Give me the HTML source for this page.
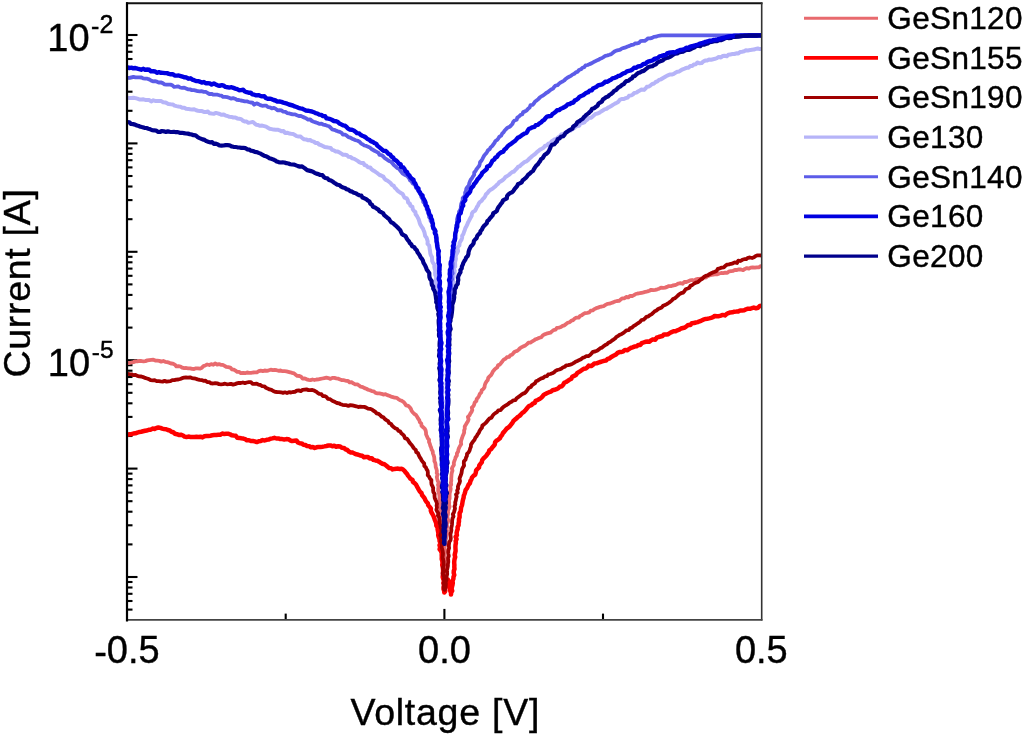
<!DOCTYPE html>
<html><head><meta charset="utf-8"><title>I-V curves</title><style>
html,body{margin:0;padding:0;background:#fff;width:1025px;height:736px;overflow:hidden}
svg{display:block}
text{font-family:"Liberation Sans",Arial,Helvetica,sans-serif;fill:#000;stroke:#000;stroke-width:0.4px}
</style></head><body>
<svg width="1025" height="736" viewBox="0 0 1025 736">
<rect width="1025" height="736" fill="#fff"/>
<defs><clipPath id="pa"><rect x="127" y="3" width="635" height="617"/></clipPath></defs>

<g stroke="#000" stroke-width="2.1" fill="none"><line x1="127" y1="609.6" x2="132.5" y2="609.6"/><line x1="127" y1="601.0" x2="132.5" y2="601.0"/><line x1="127" y1="593.8" x2="132.5" y2="593.8"/><line x1="127" y1="587.5" x2="132.5" y2="587.5"/><line x1="127" y1="582.0" x2="132.5" y2="582.0"/><line x1="127" y1="577.0" x2="137.5" y2="577.0"/><line x1="127" y1="544.4" x2="132.5" y2="544.4"/><line x1="127" y1="525.3" x2="132.5" y2="525.3"/><line x1="127" y1="511.7" x2="132.5" y2="511.7"/><line x1="127" y1="501.2" x2="132.5" y2="501.2"/><line x1="127" y1="492.6" x2="132.5" y2="492.6"/><line x1="127" y1="485.4" x2="132.5" y2="485.4"/><line x1="127" y1="479.1" x2="132.5" y2="479.1"/><line x1="127" y1="473.6" x2="132.5" y2="473.6"/><line x1="127" y1="468.6" x2="137.5" y2="468.6"/><line x1="127" y1="436.0" x2="132.5" y2="436.0"/><line x1="127" y1="416.9" x2="132.5" y2="416.9"/><line x1="127" y1="403.3" x2="132.5" y2="403.3"/><line x1="127" y1="392.8" x2="132.5" y2="392.8"/><line x1="127" y1="384.2" x2="132.5" y2="384.2"/><line x1="127" y1="377.0" x2="132.5" y2="377.0"/><line x1="127" y1="370.7" x2="132.5" y2="370.7"/><line x1="127" y1="365.2" x2="132.5" y2="365.2"/><line x1="127" y1="360.2" x2="137.5" y2="360.2"/><line x1="127" y1="327.6" x2="132.5" y2="327.6"/><line x1="127" y1="308.5" x2="132.5" y2="308.5"/><line x1="127" y1="294.9" x2="132.5" y2="294.9"/><line x1="127" y1="284.4" x2="132.5" y2="284.4"/><line x1="127" y1="275.8" x2="132.5" y2="275.8"/><line x1="127" y1="268.6" x2="132.5" y2="268.6"/><line x1="127" y1="262.3" x2="132.5" y2="262.3"/><line x1="127" y1="256.8" x2="132.5" y2="256.8"/><line x1="127" y1="251.8" x2="137.5" y2="251.8"/><line x1="127" y1="219.2" x2="132.5" y2="219.2"/><line x1="127" y1="200.1" x2="132.5" y2="200.1"/><line x1="127" y1="186.5" x2="132.5" y2="186.5"/><line x1="127" y1="176.0" x2="132.5" y2="176.0"/><line x1="127" y1="167.4" x2="132.5" y2="167.4"/><line x1="127" y1="160.2" x2="132.5" y2="160.2"/><line x1="127" y1="153.9" x2="132.5" y2="153.9"/><line x1="127" y1="148.4" x2="132.5" y2="148.4"/><line x1="127" y1="143.4" x2="137.5" y2="143.4"/><line x1="127" y1="110.8" x2="132.5" y2="110.8"/><line x1="127" y1="91.7" x2="132.5" y2="91.7"/><line x1="127" y1="78.1" x2="132.5" y2="78.1"/><line x1="127" y1="67.6" x2="132.5" y2="67.6"/><line x1="127" y1="59.0" x2="132.5" y2="59.0"/><line x1="127" y1="51.8" x2="132.5" y2="51.8"/><line x1="127" y1="45.5" x2="132.5" y2="45.5"/><line x1="127" y1="40.0" x2="132.5" y2="40.0"/><line x1="127" y1="35.0" x2="137.5" y2="35.0"/><line x1="285.7" y1="619.9" x2="285.7" y2="613.6"/><line x1="444.4" y1="619.9" x2="444.4" y2="608.9"/><line x1="603.0" y1="619.9" x2="603.0" y2="613.6"/></g>
<g clip-path="url(#pa)" fill="none" stroke-linejoin="round" stroke-linecap="round">
<path d="M127.5,363.2 L129.5,363.0 L131.5,362.5 L133.4,362.1 L135.4,361.4 L137.4,361.3 L139.3,360.8 L141.3,361.0 L143.4,361.4 L145.4,361.1 L147.3,360.4 L149.3,360.1 L151.3,359.9 L153.3,359.7 L155.3,360.6 L157.3,360.7 L159.3,360.9 L161.2,361.6 L163.3,361.0 L165.2,361.8 L167.2,362.2 L169.1,362.7 L171.0,363.5 L173.0,363.7 L174.8,364.6 L176.4,366.4 L178.5,366.1 L180.5,366.5 L182.2,367.7 L184.2,368.2 L186.3,368.0 L188.2,368.4 L190.2,368.3 L192.1,368.8 L194.1,369.0 L195.9,368.3 L197.9,368.3 L200.1,368.6 L201.9,367.7 L203.5,366.1 L205.3,365.4 L207.2,364.5 L209.3,365.0 L211.2,364.1 L213.3,364.8 L215.1,363.4 L217.1,364.6 L219.0,364.1 L220.8,364.8 L222.8,364.8 L224.6,365.8 L226.3,366.9 L228.3,367.2 L230.3,367.6 L231.8,369.3 L233.8,369.7 L235.5,370.7 L237.2,371.8 L239.3,371.9 L241.0,373.2 L243.2,372.8 L245.1,373.2 L247.1,372.5 L249.0,372.8 L251.0,372.9 L252.9,372.5 L254.9,372.4 L256.9,372.3 L258.8,371.2 L260.7,370.7 L262.8,371.1 L264.7,370.5 L266.8,370.8 L268.8,370.3 L270.7,369.7 L272.7,370.2 L274.7,370.0 L276.6,370.2 L278.5,370.8 L280.6,370.5 L282.5,371.2 L284.5,371.2 L286.5,371.3 L288.4,371.8 L290.3,372.3 L292.1,372.9 L294.1,373.4 L295.7,374.7 L297.3,375.9 L299.4,376.0 L301.2,376.8 L302.6,378.6 L304.8,378.4 L306.6,379.3 L308.6,379.8 L310.5,380.1 L312.5,379.5 L314.5,380.0 L316.5,379.5 L318.5,379.3 L320.4,378.9 L322.4,378.5 L324.4,378.1 L326.4,377.7 L328.4,378.1 L330.4,378.9 L332.4,377.8 L334.4,377.8 L336.3,378.3 L338.3,378.7 L340.2,379.5 L342.0,380.1 L344.0,380.2 L345.9,380.8 L348.0,380.8 L349.6,382.4 L351.8,382.2 L353.4,383.4 L355.2,384.4 L357.4,384.4 L359.1,385.5 L360.7,386.7 L362.8,387.1 L364.5,388.1 L366.4,388.8 L368.1,389.7 L370.0,390.3 L371.8,391.1 L373.8,391.4 L375.5,392.9 L377.4,393.3 L379.5,393.4 L381.5,393.8 L383.3,394.6 L385.5,394.2 L387.3,395.1 L389.2,395.8 L391.0,396.6 L393.0,397.1 L394.8,397.7 L396.9,397.9 L398.5,399.2 L400.1,400.3 L402.0,400.9 L403.6,402.1 L404.9,403.6 L406.1,405.3 L408.3,405.9 L409.8,407.3 L410.9,408.9 L411.6,410.9 L412.9,412.5 L414.3,413.9 L416.1,415.1 L417.1,416.8 L418.1,418.5 L419.3,420.1 L419.8,422.1 L421.3,423.6 L421.5,425.8 L423.1,427.2 L424.7,428.6 L425.6,430.4 L426.0,432.4 L426.1,434.5 L427.0,436.3 L427.7,438.2 L429.1,439.8 L429.0,442.0 L429.8,443.8 L430.3,445.7 L431.1,447.6 L431.6,449.5 L432.7,451.3 L432.9,453.3 L433.6,455.2 L434.2,457.1 L434.4,459.1 L434.4,461.2 L435.3,463.0 L435.6,465.0 L435.7,467.0 L436.4,468.9 L436.9,470.9 L436.7,472.9 L437.6,474.8 L436.8,476.9 L437.2,478.9 L437.7,480.9 L438.8,482.8 L438.0,484.9 L438.6,486.8 L438.2,488.9 L438.2,490.9 L438.8,492.8 L439.3,494.8 L439.5,496.8 L439.4,498.8 L439.9,500.8 L440.7,502.7 L439.6,504.8 L440.2,506.8 L440.8,508.7 L440.3,510.8 L440.9,512.7 L441.3,514.7 L441.3,516.7 L441.4,518.7 L441.5,520.7 L441.0,522.7 L441.8,524.7 L441.1,526.7 L441.4,528.7 L442.0,530.7 L442.0,532.7 L441.4,534.7 L442.3,536.7 L442.8,538.7 L442.6,540.7 L442.0,542.7 L442.9,544.7 L442.4,546.7 L442.7,548.7 L443.5,550.6 L443.0,552.7 L443.0,554.7 L443.2,556.7 L444.2,558.6 L443.9,560.6 L443.6,562.6 L444.6,564.6 L444.0,566.6 L444.3,568.4 L443.3,566.3 L444.7,564.4 L444.7,562.4 L445.1,560.4 L444.3,558.4 L444.7,556.4 L444.4,554.4 L444.8,552.4 L444.9,550.4 L444.6,548.4 L444.6,546.4 L445.6,544.4 L445.7,542.4 L445.6,540.4 L446.1,538.4 L446.3,536.4 L446.7,534.5 L447.0,532.5 L446.8,530.5 L446.7,528.4 L447.2,526.5 L446.6,524.4 L447.8,522.5 L448.4,520.6 L447.7,518.5 L447.3,516.5 L447.9,514.5 L448.1,512.5 L447.9,510.5 L448.9,508.6 L449.6,506.6 L449.0,504.5 L449.2,502.6 L448.9,500.5 L449.6,498.6 L449.6,496.6 L449.6,494.6 L449.8,492.6 L450.4,490.6 L450.7,488.6 L450.2,486.6 L451.2,484.7 L450.9,482.6 L451.3,480.7 L451.2,478.6 L451.4,476.6 L451.5,474.6 L451.8,472.7 L452.5,470.7 L451.9,468.6 L452.7,466.7 L453.9,464.9 L453.8,462.8 L454.4,460.9 L455.1,459.1 L455.7,457.1 L456.9,455.5 L456.9,453.4 L458.1,451.7 L458.4,449.6 L459.1,447.8 L460.0,446.0 L461.2,444.2 L460.9,442.1 L461.3,440.1 L462.0,438.2 L462.6,436.3 L463.4,434.5 L464.2,432.6 L464.1,430.5 L464.8,428.6 L464.7,426.5 L465.8,424.7 L466.8,423.0 L467.9,421.2 L468.6,419.4 L467.9,416.9 L469.5,415.4 L470.3,413.6 L471.5,411.9 L472.3,410.1 L471.8,407.7 L473.4,406.2 L474.2,404.4 L474.7,402.4 L476.4,401.1 L476.7,399.0 L478.1,397.4 L479.1,395.7 L479.8,393.8 L481.3,392.4 L481.7,390.3 L483.4,388.9 L484.5,387.2 L484.8,385.1 L485.5,383.2 L486.5,381.5 L487.8,380.0 L488.2,377.9 L489.6,376.4 L491.1,375.0 L492.1,373.3 L492.9,371.4 L494.2,369.9 L495.6,368.5 L497.3,367.4 L498.0,365.3 L500.0,364.4 L501.2,362.8 L502.5,361.2 L503.7,359.6 L505.5,358.7 L506.9,357.2 L509.2,356.8 L510.4,355.2 L512.4,354.4 L513.6,352.8 L515.1,351.5 L517.2,350.9 L518.7,349.6 L520.1,348.1 L521.8,347.1 L523.6,346.2 L525.4,345.4 L527.0,344.1 L528.5,342.7 L530.7,342.5 L532.3,341.3 L534.0,340.3 L535.7,339.2 L537.6,338.6 L539.5,337.8 L541.4,337.2 L542.8,335.4 L544.5,334.4 L546.4,333.7 L548.4,333.2 L550.4,332.7 L551.9,331.4 L553.5,330.1 L555.6,329.7 L556.9,327.8 L559.0,327.6 L561.0,327.0 L562.6,325.8 L564.5,325.3 L566.1,324.0 L567.7,322.8 L569.7,322.2 L571.2,320.8 L573.1,320.1 L574.6,318.7 L576.3,317.7 L578.6,317.7 L580.0,316.0 L581.8,315.3 L583.4,313.9 L585.2,313.1 L587.3,312.8 L589.3,312.4 L590.7,310.6 L592.7,310.4 L594.4,309.1 L596.2,308.2 L598.1,307.7 L599.9,306.8 L601.9,306.5 L603.9,306.1 L605.6,304.8 L607.4,303.8 L609.4,303.7 L611.3,303.0 L613.2,302.4 L615.0,301.5 L617.0,301.0 L619.0,300.9 L620.7,299.6 L622.4,298.3 L624.5,298.3 L626.2,297.0 L628.4,297.3 L630.0,295.8 L632.2,296.0 L634.0,295.1 L635.7,294.0 L637.7,293.5 L639.7,293.2 L641.6,292.8 L643.6,292.4 L645.5,291.8 L647.5,291.4 L649.4,290.7 L651.2,289.8 L653.3,290.1 L655.3,289.8 L657.3,289.3 L659.2,288.7 L661.0,287.7 L663.1,287.9 L665.1,287.6 L667.0,286.9 L668.8,286.1 L670.9,286.2 L672.8,285.5 L674.8,285.2 L676.7,284.4 L678.5,283.5 L680.4,283.1 L682.7,283.8 L684.3,281.9 L686.4,282.0 L688.3,281.3 L690.1,280.4 L692.1,280.0 L694.3,280.5 L696.0,279.4 L698.0,278.9 L700.0,278.7 L702.0,278.4 L703.7,277.2 L705.9,277.5 L707.6,276.1 L709.5,275.4 L711.4,274.9 L713.4,274.6 L715.3,274.1 L717.4,274.3 L719.3,273.5 L721.2,273.0 L723.3,273.1 L725.3,272.6 L727.3,272.9 L729.1,271.3 L731.1,271.1 L733.1,270.9 L734.9,269.8 L737.0,270.0 L738.9,269.3 L740.9,269.5 L743.1,270.2 L744.9,268.9 L746.8,268.1 L748.9,268.6 L750.7,267.6 L752.7,267.4 L754.8,267.7 L756.8,267.3 L758.8,267.4 L760.7,266.2 L761.7,266.3" stroke="#e86a6e" stroke-width="3.8"/>
<path d="M127.5,434.7 L129.5,434.3 L131.5,434.2 L133.4,433.5 L135.4,433.3 L137.3,432.6 L139.1,432.1 L141.1,431.8 L143.0,431.3 L145.0,430.8 L147.0,430.5 L148.8,429.8 L150.8,429.7 L152.6,428.6 L154.6,428.9 L156.5,428.0 L158.4,427.5 L160.4,427.9 L162.2,428.6 L164.0,429.0 L166.1,429.2 L167.8,430.0 L169.8,430.5 L171.4,431.8 L173.3,432.3 L174.9,433.7 L176.9,434.2 L178.7,434.9 L180.8,434.7 L182.7,435.3 L184.5,436.6 L186.5,437.0 L188.5,436.6 L190.5,436.9 L192.5,436.9 L194.5,437.0 L196.5,436.8 L198.5,437.0 L200.5,436.7 L202.5,437.4 L204.4,436.3 L206.4,436.1 L208.4,436.0 L210.4,435.7 L212.4,435.3 L214.3,435.1 L216.3,434.9 L218.3,434.7 L220.3,434.7 L222.2,433.6 L224.2,433.9 L226.1,433.8 L228.1,433.7 L230.0,434.3 L231.7,435.3 L233.8,435.6 L235.8,435.8 L237.2,437.7 L239.3,437.9 L241.3,438.3 L243.3,438.6 L245.2,439.1 L246.9,440.3 L249.0,440.2 L250.9,441.0 L252.9,441.0 L254.8,441.4 L256.8,442.1 L258.8,441.2 L260.8,440.9 L262.6,440.1 L264.7,440.5 L266.6,439.8 L268.6,439.6 L270.4,438.8 L272.4,438.4 L274.4,437.8 L276.4,438.5 L278.4,438.4 L280.3,439.1 L282.3,439.1 L284.3,439.5 L286.4,439.1 L288.4,439.2 L290.2,440.4 L292.0,441.1 L294.2,440.7 L296.4,440.4 L297.8,442.4 L299.7,443.2 L301.7,443.4 L303.4,444.7 L305.4,445.0 L307.1,446.1 L309.2,446.2 L310.9,447.3 L312.9,447.0 L314.7,448.0 L316.6,447.3 L318.5,446.9 L320.5,446.9 L322.5,446.7 L324.4,446.4 L326.4,446.0 L328.4,445.5 L330.4,445.4 L332.4,446.3 L334.3,445.7 L336.1,446.7 L338.2,446.3 L340.2,446.5 L341.8,447.8 L344.0,447.9 L345.5,449.4 L347.4,450.0 L348.9,451.6 L350.7,452.5 L352.8,452.6 L354.6,453.6 L356.4,454.3 L358.4,454.7 L360.2,455.5 L362.2,455.8 L363.9,457.2 L366.0,456.9 L368.0,457.1 L369.7,458.4 L371.9,458.2 L373.4,459.9 L375.4,460.4 L377.4,460.7 L379.1,461.7 L380.7,462.8 L382.4,463.8 L384.5,464.3 L386.1,465.5 L387.6,466.8 L389.1,468.1 L391.1,468.2 L392.6,469.4 L394.5,468.9 L396.2,468.7 L398.0,468.6 L399.7,469.0 L401.5,468.8 L403.1,469.6 L404.5,470.9 L405.6,472.4 L407.0,473.8 L408.0,475.6 L409.3,477.1 L410.4,478.8 L412.5,479.7 L412.9,481.9 L414.6,483.1 L416.0,484.5 L416.9,486.4 L417.9,488.1 L418.9,489.9 L419.9,491.6 L421.5,493.0 L422.0,495.0 L423.3,496.6 L424.5,498.2 L425.3,500.0 L426.4,501.7 L427.8,503.2 L428.2,505.2 L429.5,506.8 L430.9,508.4 L430.8,510.6 L431.5,512.5 L432.5,514.2 L433.5,516.0 L434.2,517.9 L434.8,519.8 L435.6,521.6 L436.3,523.5 L436.3,525.6 L437.6,527.3 L437.6,529.4 L438.0,531.3 L438.4,533.3 L438.2,535.3 L438.8,537.3 L439.5,539.2 L439.6,541.2 L440.6,543.0 L439.5,545.2 L440.1,547.2 L439.6,549.2 L440.9,551.1 L441.8,553.0 L441.7,555.0 L441.8,557.0 L441.7,559.1 L442.3,561.0 L442.5,563.0 L442.2,565.0 L442.7,567.0 L443.0,569.0 L443.1,571.0 L442.9,573.0 L442.9,575.0 L442.7,577.0 L443.3,579.0 L444.0,581.0 L443.4,583.0 L444.0,585.0 L443.6,587.0 L443.5,589.0 L444.2,591.0 L444.3,592.6 L445.2,591.2 L444.6,589.0 L445.5,587.1 L445.7,585.2 L446.6,583.3 L447.4,581.4 L447.5,579.4 L447.9,579.6 L448.5,581.5 L448.6,583.5 L448.8,585.5 L449.8,587.3 L449.8,589.4 L450.4,591.3 L451.1,593.2 L451.0,594.6 L451.1,592.7 L452.2,590.9 L451.6,588.8 L452.0,586.8 L452.5,584.9 L452.8,582.9 L452.5,580.8 L453.4,578.9 L453.5,576.9 L454.3,575.0 L453.7,572.9 L453.8,570.9 L454.5,569.0 L454.3,567.0 L454.4,565.0 L454.2,562.9 L454.3,560.9 L454.6,559.0 L455.2,557.0 L454.7,555.0 L455.1,553.0 L455.6,551.0 L455.5,549.0 L455.4,547.0 L455.5,545.0 L455.9,543.0 L455.7,541.0 L456.6,539.1 L455.6,536.9 L456.9,535.1 L456.6,533.0 L457.0,531.0 L457.7,529.1 L457.6,527.1 L458.6,525.2 L458.6,523.2 L459.0,521.2 L458.9,519.2 L459.6,517.3 L459.6,515.2 L459.6,513.2 L460.7,511.4 L460.9,509.4 L461.1,507.4 L461.9,505.5 L462.3,503.5 L462.6,501.5 L463.0,499.6 L463.6,497.7 L463.8,495.6 L464.6,493.8 L465.2,491.9 L465.6,489.9 L467.0,488.3 L467.8,486.4 L468.6,484.6 L470.0,483.1 L470.4,481.0 L471.4,479.3 L472.1,477.4 L473.4,475.9 L475.2,474.6 L475.8,472.6 L476.1,470.5 L477.4,468.9 L479.0,467.6 L479.3,465.4 L480.5,463.8 L481.8,462.3 L482.2,460.1 L483.4,458.5 L484.9,457.1 L486.4,455.7 L487.4,454.0 L488.7,452.5 L489.3,450.4 L491.1,449.2 L492.2,447.5 L493.5,446.1 L494.8,444.5 L495.1,442.2 L496.4,440.7 L498.3,439.6 L499.9,438.3 L500.7,436.5 L502.1,435.0 L502.9,433.1 L504.3,431.6 L505.5,430.1 L506.8,428.5 L508.5,427.4 L510.0,426.0 L511.2,424.4 L512.4,422.8 L513.4,421.0 L514.9,419.6 L516.5,418.4 L517.9,416.9 L519.6,415.9 L521.0,414.4 L522.3,412.9 L524.0,411.8 L525.4,410.3 L526.7,408.8 L527.9,407.1 L529.4,405.8 L531.4,405.1 L532.8,403.6 L534.8,402.9 L535.6,400.8 L537.6,400.0 L539.4,399.1 L541.0,398.0 L542.4,396.6 L543.7,394.9 L545.4,393.9 L547.2,393.0 L549.1,392.2 L551.0,391.6 L552.6,390.2 L554.6,389.8 L556.5,389.2 L558.3,388.3 L559.7,386.8 L561.8,386.3 L563.2,384.8 L564.2,382.8 L566.1,382.0 L567.8,380.9 L569.4,379.7 L571.3,378.8 L572.2,376.8 L574.1,375.9 L575.9,375.0 L577.1,373.2 L578.7,372.2 L580.5,371.1 L582.0,369.9 L583.7,368.8 L585.8,368.5 L587.4,367.2 L588.8,365.6 L591.2,366.1 L592.9,364.9 L594.4,363.4 L596.6,363.3 L598.4,362.6 L600.3,362.0 L602.2,361.4 L604.1,360.8 L606.1,360.5 L607.5,358.9 L609.4,358.5 L610.9,357.2 L612.6,356.2 L614.4,355.3 L616.1,354.4 L617.6,352.9 L619.4,352.1 L621.5,352.0 L623.3,351.3 L624.9,349.9 L627.2,350.3 L628.9,349.2 L630.6,348.0 L632.5,347.4 L634.4,346.6 L636.4,346.3 L638.1,345.1 L640.2,345.0 L641.7,343.2 L643.5,342.5 L645.4,341.8 L647.5,341.6 L649.6,341.7 L651.2,340.2 L653.0,339.4 L655.3,339.8 L656.7,337.7 L658.6,337.0 L660.5,336.5 L662.5,336.0 L664.0,334.4 L666.2,334.6 L668.2,334.2 L669.9,333.0 L671.7,332.1 L673.5,331.3 L675.6,331.2 L677.4,330.3 L679.3,329.7 L681.0,328.5 L683.0,328.0 L684.9,327.5 L686.6,326.2 L688.1,324.9 L690.4,325.0 L691.8,323.3 L693.9,323.1 L695.7,322.5 L697.7,322.1 L699.6,321.3 L701.5,320.6 L703.3,319.7 L705.2,319.0 L707.2,318.8 L709.1,318.4 L711.1,317.9 L713.0,317.2 L714.7,315.9 L716.8,316.3 L718.9,316.2 L720.8,315.6 L722.7,314.9 L724.9,315.4 L726.6,314.0 L728.4,313.1 L730.3,312.4 L732.4,312.3 L734.3,311.7 L736.3,311.6 L738.3,311.4 L740.2,310.5 L742.2,310.4 L744.2,310.2 L746.0,309.3 L747.9,308.7 L750.0,308.8 L751.9,308.2 L753.8,307.5 L756.0,308.3 L758.0,307.8 L759.7,306.0 L761.7,305.8" stroke="#ff0000" stroke-width="4.5"/>
<path d="M127.5,373.9 L129.5,374.2 L131.5,374.3 L133.4,375.2 L135.5,374.9 L137.3,375.9 L139.2,376.3 L141.3,376.5 L143.2,377.1 L145.0,377.9 L147.0,378.5 L148.9,379.1 L150.6,380.2 L152.7,380.4 L154.7,380.2 L156.6,381.1 L158.6,381.1 L160.6,381.4 L162.6,381.6 L164.6,380.9 L166.6,381.6 L168.5,381.3 L170.5,381.2 L172.3,380.2 L174.4,380.1 L176.3,379.6 L178.3,379.5 L180.2,379.0 L182.1,378.2 L184.0,377.7 L186.0,377.5 L188.0,377.6 L190.0,377.3 L191.9,378.1 L193.8,378.4 L195.7,378.7 L197.6,379.4 L199.5,379.9 L201.6,380.1 L203.4,380.8 L205.5,380.6 L207.2,382.1 L209.3,382.2 L211.1,383.4 L213.1,383.5 L215.2,383.1 L217.2,383.4 L219.1,384.1 L221.1,384.3 L223.0,384.2 L225.0,383.7 L227.0,384.3 L229.0,384.2 L231.0,383.9 L233.1,384.6 L235.0,384.1 L236.9,383.4 L238.9,382.8 L240.9,383.0 L242.9,382.5 L244.9,383.1 L246.9,382.5 L248.9,382.1 L250.9,382.2 L252.6,383.8 L254.6,383.9 L256.7,383.7 L258.5,384.7 L260.5,385.0 L262.2,386.2 L264.3,386.3 L265.9,387.7 L267.7,388.6 L269.5,389.4 L271.5,389.9 L273.2,391.0 L275.0,391.8 L277.1,392.0 L279.1,392.1 L281.0,392.3 L283.0,392.9 L285.0,392.3 L287.0,393.0 L288.9,392.2 L291.0,392.5 L292.9,392.0 L294.9,391.8 L296.7,390.6 L298.7,390.4 L300.8,391.1 L302.6,389.8 L304.5,389.6 L306.5,389.4 L308.5,390.1 L310.4,390.2 L312.4,390.0 L314.3,390.6 L316.0,391.6 L317.6,392.8 L319.3,393.9 L321.4,394.2 L322.7,396.0 L324.9,396.2 L326.6,397.2 L327.9,398.9 L330.1,399.2 L331.7,400.3 L333.4,401.3 L335.2,402.1 L337.0,403.0 L339.0,403.3 L340.7,404.2 L342.5,404.8 L344.5,405.2 L346.4,405.2 L348.4,405.9 L350.4,405.1 L352.4,405.3 L354.4,405.8 L356.3,406.3 L358.3,407.0 L360.3,406.7 L362.3,406.8 L364.3,406.9 L366.2,407.6 L368.0,408.6 L370.0,408.8 L371.9,409.5 L373.5,410.8 L375.2,411.7 L376.5,413.3 L378.6,413.8 L380.1,415.1 L381.4,416.6 L383.4,417.3 L384.7,418.9 L386.4,420.1 L388.1,421.1 L389.1,423.0 L391.0,423.9 L392.1,425.6 L393.6,427.0 L395.2,428.2 L397.2,429.0 L398.3,430.7 L400.3,431.6 L401.3,433.3 L402.9,434.6 L404.2,436.1 L404.9,438.1 L407.1,438.9 L408.3,440.5 L409.3,442.3 L410.5,443.8 L411.9,445.3 L413.0,447.0 L414.2,448.6 L415.8,449.9 L416.2,452.1 L418.0,453.2 L418.7,455.2 L419.6,457.0 L420.8,458.6 L421.6,460.4 L422.9,462.0 L424.2,463.5 L424.3,465.8 L425.8,467.3 L426.5,469.1 L427.6,470.8 L427.9,472.9 L427.7,475.1 L429.2,476.7 L429.9,478.5 L431.4,480.1 L431.3,482.3 L431.5,484.3 L432.4,486.1 L433.2,488.0 L433.1,490.1 L433.4,492.1 L434.6,493.8 L434.5,495.9 L434.7,497.9 L435.5,499.8 L436.4,501.6 L437.0,503.6 L436.6,505.7 L437.0,507.6 L436.4,509.8 L437.3,511.6 L438.4,513.5 L437.9,515.6 L439.2,517.4 L439.3,519.4 L439.7,521.4 L439.7,523.4 L440.3,525.3 L440.6,527.3 L441.3,529.3 L441.5,531.3 L441.1,533.3 L440.2,535.4 L441.3,537.3 L441.3,539.3 L441.0,541.4 L441.7,543.3 L441.9,545.3 L441.6,547.3 L442.2,549.3 L442.7,551.3 L443.0,553.2 L442.9,555.3 L442.6,557.3 L443.0,559.3 L443.6,561.2 L443.6,563.2 L443.8,565.2 L442.9,567.3 L443.1,569.3 L443.5,571.3 L442.7,573.3 L443.2,575.3 L444.3,577.2 L443.8,579.2 L444.3,581.2 L443.6,583.3 L444.1,585.2 L443.7,587.3 L444.0,589.3 L444.8,589.8 L445.5,587.9 L445.7,585.9 L445.9,583.9 L445.7,581.8 L446.5,579.9 L446.5,577.9 L446.7,576.0 L447.2,574.0 L447.0,572.0 L446.9,570.0 L447.5,568.0 L447.9,566.0 L447.9,564.0 L448.3,562.0 L448.2,560.0 L448.0,558.0 L448.8,556.1 L448.4,554.0 L448.2,552.0 L448.4,550.0 L449.1,548.1 L448.8,546.0 L449.0,544.0 L449.3,542.0 L450.5,540.2 L450.8,538.2 L450.6,536.2 L450.4,534.1 L451.0,532.2 L451.4,530.2 L451.2,528.1 L451.7,526.2 L452.0,524.2 L452.1,522.2 L452.2,520.2 L452.6,518.2 L453.5,516.4 L452.8,514.2 L453.9,512.4 L454.5,510.4 L455.0,508.5 L454.5,506.4 L455.3,504.5 L455.2,502.4 L455.8,500.5 L456.1,498.5 L456.7,496.6 L456.0,494.5 L457.7,492.7 L457.1,490.6 L458.1,488.7 L457.9,486.7 L458.6,484.7 L459.5,482.9 L460.0,481.0 L459.5,478.8 L460.1,476.9 L460.9,475.0 L461.5,473.1 L461.8,471.1 L462.1,469.1 L463.0,467.3 L464.1,465.6 L463.8,463.4 L463.9,461.3 L465.5,459.7 L466.0,457.7 L466.9,455.9 L467.0,453.8 L468.6,452.3 L469.6,450.6 L470.1,448.6 L470.9,446.8 L471.0,444.6 L472.1,442.9 L473.2,441.3 L474.6,439.7 L475.3,437.8 L476.6,436.3 L477.5,434.5 L478.8,432.9 L479.5,431.0 L480.6,429.3 L481.9,427.8 L482.3,425.6 L484.0,424.4 L485.5,423.1 L486.9,421.6 L488.1,420.0 L489.4,418.6 L491.4,417.7 L492.5,415.9 L493.7,414.4 L495.3,413.1 L497.0,412.1 L498.3,410.4 L500.6,410.2 L501.8,408.5 L503.3,407.1 L504.9,405.9 L506.7,405.0 L508.3,403.9 L509.8,402.5 L511.7,401.7 L513.2,400.3 L515.5,400.1 L516.6,398.3 L518.3,397.1 L519.8,395.9 L521.4,394.7 L523.1,393.6 L525.1,392.9 L526.4,391.3 L527.6,389.7 L528.7,387.9 L530.7,387.1 L531.8,385.4 L533.5,384.2 L535.1,383.1 L536.1,381.2 L538.0,380.4 L539.6,379.3 L541.3,378.3 L543.3,377.8 L544.9,376.4 L547.0,376.2 L548.3,374.4 L550.4,374.0 L552.3,373.3 L554.0,372.3 L555.5,370.9 L557.3,370.0 L559.3,369.5 L561.2,368.7 L562.8,367.5 L564.7,366.8 L566.2,365.3 L568.3,365.1 L570.3,364.6 L572.1,364.0 L573.9,362.9 L575.5,361.7 L577.4,360.9 L579.2,360.1 L581.0,359.2 L582.6,357.9 L584.5,357.3 L586.1,356.2 L588.4,356.1 L590.1,355.0 L591.5,353.5 L592.8,351.8 L595.0,351.5 L596.9,350.8 L598.6,349.7 L600.1,348.3 L602.0,347.6 L603.5,346.3 L605.2,345.1 L607.0,344.3 L608.4,342.7 L610.2,341.9 L611.8,340.7 L613.5,339.6 L615.1,338.4 L616.5,336.8 L618.2,335.8 L619.9,334.7 L621.8,333.9 L623.5,332.9 L625.0,331.6 L626.5,330.3 L628.8,330.1 L630.0,328.3 L632.0,327.6 L633.5,326.2 L635.2,325.2 L636.8,324.0 L638.5,322.9 L640.1,321.7 L641.4,320.1 L643.5,319.7 L645.0,318.4 L646.4,316.8 L648.5,316.3 L650.0,315.1 L651.8,314.1 L653.3,312.7 L654.7,311.2 L656.6,310.4 L658.1,309.0 L659.9,308.2 L661.8,307.4 L663.1,305.8 L665.0,305.0 L666.8,304.1 L668.5,303.0 L670.1,301.9 L671.7,300.6 L673.0,299.0 L674.9,298.2 L676.5,296.9 L677.9,295.5 L679.4,294.1 L681.1,293.2 L683.2,292.6 L684.5,291.0 L685.7,289.2 L687.6,288.5 L689.5,287.7 L690.5,285.7 L692.4,284.9 L694.0,283.6 L695.8,282.7 L697.9,282.2 L699.3,280.8 L700.9,279.5 L702.6,278.5 L704.0,276.9 L705.7,275.9 L707.7,275.3 L709.4,274.2 L711.2,273.3 L713.0,272.4 L714.9,271.8 L716.7,270.9 L717.8,268.8 L719.8,268.3 L721.7,267.6 L723.8,267.3 L725.3,265.8 L727.0,264.7 L729.0,264.4 L731.0,263.8 L732.9,263.3 L734.7,262.4 L737.0,263.0 L738.3,260.6 L740.5,261.0 L742.3,259.8 L744.2,259.2 L746.2,259.1 L748.0,257.8 L749.9,257.5 L752.1,258.0 L754.0,257.3 L755.7,256.0 L757.6,255.3 L759.7,255.3 L761.8,255.5" stroke="#a00000" stroke-width="3.8"/>
<path d="M127.4,97.7 L129.4,98.0 L131.4,97.9 L133.5,97.7 L135.5,98.1 L137.4,98.7 L139.3,99.4 L141.3,99.4 L143.4,99.3 L145.3,99.9 L147.3,100.1 L149.3,100.1 L151.2,101.5 L153.3,100.3 L155.2,100.9 L157.2,101.1 L159.3,101.1 L161.3,101.1 L163.1,102.2 L165.1,102.4 L166.9,103.2 L168.7,104.1 L170.7,104.3 L172.8,104.4 L174.5,105.6 L176.5,106.1 L178.5,106.5 L180.4,106.8 L182.2,107.8 L184.3,107.8 L186.1,108.8 L188.2,108.9 L190.1,109.3 L192.1,109.5 L194.2,109.3 L196.1,110.2 L198.0,110.7 L200.0,111.0 L202.0,111.1 L203.9,111.9 L205.9,112.0 L208.0,111.5 L209.7,113.3 L211.7,113.6 L213.7,113.8 L215.9,112.9 L217.8,113.4 L219.8,114.0 L221.6,114.8 L223.7,114.5 L225.6,115.6 L227.5,116.0 L229.4,116.8 L231.4,116.9 L233.3,117.5 L235.4,117.5 L237.2,118.4 L239.2,118.7 L241.2,119.1 L242.8,120.6 L244.6,121.5 L246.7,121.6 L248.4,122.8 L250.6,122.4 L252.9,121.9 L254.5,123.4 L256.2,124.8 L258.2,125.1 L260.1,125.8 L262.2,125.6 L264.2,126.1 L266.1,126.6 L267.9,127.7 L269.7,128.7 L271.6,129.1 L273.6,129.6 L275.6,129.8 L277.7,129.7 L279.6,130.3 L281.4,131.3 L283.5,131.0 L285.1,133.0 L287.2,132.7 L289.1,133.5 L291.1,133.8 L293.1,134.0 L294.9,135.0 L296.6,136.1 L298.6,136.5 L300.7,136.6 L302.3,138.1 L304.0,139.2 L306.1,139.4 L307.9,140.3 L310.1,140.0 L311.8,141.1 L313.8,141.6 L315.4,142.9 L317.6,143.0 L319.1,144.5 L321.0,145.2 L322.8,146.0 L324.6,146.9 L326.6,147.2 L328.6,147.6 L330.7,148.0 L332.1,149.9 L334.0,150.4 L335.8,151.4 L337.8,151.6 L339.6,152.5 L341.4,153.6 L343.1,154.7 L345.2,154.8 L347.1,155.3 L348.6,156.8 L350.7,157.1 L352.3,158.4 L354.3,158.9 L356.0,159.9 L357.7,160.9 L359.3,162.2 L361.1,163.0 L363.4,163.1 L364.6,165.1 L366.5,165.7 L367.9,167.3 L370.2,167.4 L371.4,169.2 L373.0,170.4 L374.8,171.3 L376.4,172.5 L378.0,173.7 L379.6,175.0 L381.5,175.7 L383.3,176.6 L384.4,178.5 L385.8,179.9 L387.7,180.8 L389.3,182.0 L390.8,183.3 L392.0,185.0 L393.8,185.9 L394.8,187.8 L396.3,189.1 L397.6,190.7 L399.2,191.9 L400.9,193.0 L402.7,194.0 L403.6,195.9 L404.6,197.7 L406.8,198.5 L407.8,200.3 L408.1,202.5 L409.9,203.7 L410.4,205.8 L412.4,206.8 L412.7,209.1 L413.8,210.7 L415.4,212.1 L415.6,214.2 L416.8,215.8 L417.8,217.6 L418.7,219.4 L419.3,221.3 L419.8,223.3 L420.6,225.1 L421.6,226.8 L422.9,228.5 L423.6,230.3 L424.4,232.2 L424.8,234.2 L425.2,236.1 L426.6,237.8 L427.2,239.7 L427.7,241.6 L427.5,243.8 L429.1,245.4 L429.5,247.4 L429.7,249.4 L430.1,251.4 L430.3,253.4 L430.9,255.3 L432.0,257.1 L432.1,259.1 L432.2,261.1 L433.1,263.0 L434.5,264.7 L434.3,266.8 L434.7,268.8 L435.3,270.7 L435.1,272.8 L435.2,274.8 L436.1,276.7 L436.1,278.7 L435.6,280.8 L435.5,282.8 L436.4,284.7 L436.7,286.7 L437.2,288.6 L437.4,290.6 L437.4,292.6 L437.9,294.6 L437.3,296.7 L437.6,298.6 L437.7,300.6 L438.1,302.6 L437.8,304.6 L438.6,306.6 L439.1,308.6 L438.7,310.6 L438.9,312.6 L439.4,314.6 L439.9,316.5 L439.6,318.6 L439.6,320.6 L439.7,322.6 L440.2,324.5 L439.6,326.6 L439.7,328.6 L440.2,330.5 L440.0,332.6 L440.8,334.5 L440.1,336.6 L440.0,338.6 L440.0,340.6 L440.8,342.5 L440.6,344.5 L440.4,346.6 L441.0,348.5 L440.8,350.5 L440.4,352.6 L441.3,354.5 L441.1,356.5 L440.7,358.6 L440.2,360.6 L441.0,362.6 L441.5,364.5 L441.3,366.5 L441.1,368.6 L441.4,370.5 L442.0,372.5 L441.7,374.5 L441.4,376.6 L441.4,378.6 L441.1,380.6 L441.7,382.6 L441.6,384.6 L441.8,386.6 L441.7,388.6 L442.0,390.5 L442.3,392.5 L441.6,394.6 L441.2,396.6 L442.0,398.6 L442.5,400.5 L442.1,402.6 L441.9,404.6 L442.4,406.6 L441.8,408.6 L442.2,410.6 L442.2,412.6 L441.8,414.6 L442.1,416.6 L442.1,418.6 L442.7,420.6 L443.0,422.6 L442.5,424.6 L442.3,426.6 L442.6,428.6 L442.4,430.6 L443.1,432.6 L442.5,434.6 L442.0,436.6 L442.2,438.6 L442.4,440.6 L443.1,442.6 L443.1,444.6 L442.5,446.6 L442.4,448.6 L443.0,450.6 L443.3,452.6 L442.7,454.6 L442.3,456.6 L442.9,458.6 L443.8,460.6 L443.0,462.6 L443.1,464.6 L443.8,466.6 L443.3,468.6 L443.3,470.6 L443.9,472.6 L442.7,474.6 L443.3,476.6 L443.6,478.6 L444.5,480.6 L443.3,482.6 L443.7,484.6 L444.2,486.6 L444.1,488.6 L444.6,490.6 L444.5,492.6 L444.0,494.6 L443.9,494.4 L444.6,492.4 L444.5,490.4 L445.0,488.4 L444.8,486.4 L445.0,484.4 L444.6,482.4 L444.3,480.4 L444.6,478.4 L444.7,476.4 L444.8,474.4 L444.5,472.4 L444.7,470.4 L444.8,468.4 L445.6,466.4 L444.8,464.4 L444.7,462.4 L444.8,460.4 L445.6,458.4 L444.7,456.4 L445.7,454.4 L445.7,452.4 L445.4,450.4 L444.9,448.4 L445.3,446.4 L445.0,444.4 L445.1,442.4 L446.0,440.4 L445.8,438.4 L445.7,436.4 L446.2,434.4 L446.3,432.4 L446.3,430.4 L446.1,428.4 L446.1,426.4 L445.8,424.4 L445.9,422.4 L446.4,420.4 L445.9,418.4 L445.9,416.4 L445.7,414.4 L446.3,412.4 L446.5,410.4 L445.6,408.4 L447.4,406.4 L446.9,404.4 L446.3,402.4 L446.7,400.4 L447.7,398.4 L447.4,396.4 L447.1,394.4 L446.5,392.4 L446.9,390.4 L446.5,388.4 L447.1,386.4 L446.4,384.4 L446.5,382.4 L447.2,380.4 L446.9,378.4 L447.4,376.4 L446.6,374.4 L447.8,372.4 L447.3,370.4 L447.8,368.4 L447.4,366.4 L447.6,364.4 L446.9,362.4 L447.5,360.4 L447.6,358.4 L447.5,356.4 L447.8,354.4 L447.8,352.4 L447.7,350.4 L447.8,348.4 L448.5,346.4 L448.0,344.4 L448.0,342.4 L447.9,340.4 L448.4,338.4 L448.8,336.4 L449.3,334.5 L449.1,332.4 L449.4,330.5 L448.7,328.4 L449.4,326.4 L449.3,324.4 L449.5,322.4 L450.2,320.5 L450.1,318.5 L449.7,316.4 L449.9,314.4 L451.4,312.5 L450.7,310.5 L450.8,308.5 L451.7,306.6 L450.9,304.5 L451.2,302.5 L451.9,300.6 L450.8,298.5 L452.0,296.6 L452.0,294.5 L452.3,292.6 L451.2,290.5 L452.0,288.5 L452.9,286.6 L452.6,284.5 L453.3,282.6 L452.9,280.6 L453.2,278.6 L453.8,276.6 L453.3,274.6 L454.5,272.7 L454.7,270.7 L453.5,268.5 L455.2,266.7 L455.2,264.7 L455.0,262.7 L455.4,260.7 L455.9,258.8 L455.6,256.7 L456.1,254.7 L457.2,252.9 L458.1,251.1 L457.5,248.9 L457.9,246.9 L459.4,245.3 L459.5,243.2 L460.4,241.4 L461.5,239.7 L462.1,237.7 L462.2,235.6 L463.4,234.0 L464.0,232.0 L464.7,230.2 L465.3,228.3 L466.3,226.5 L467.2,224.7 L467.9,222.8 L468.8,221.1 L469.7,219.3 L470.7,217.5 L471.7,215.8 L471.9,213.6 L472.9,211.9 L475.0,210.8 L476.0,209.0 L476.8,207.2 L477.9,205.6 L478.7,203.7 L479.8,202.1 L481.6,200.9 L482.7,199.2 L484.1,197.8 L485.2,196.1 L486.0,194.2 L487.5,192.9 L488.8,191.3 L490.3,189.9 L492.1,189.0 L493.7,187.7 L495.3,186.5 L496.6,185.0 L498.2,183.7 L499.4,182.0 L501.2,181.1 L502.8,180.0 L504.3,178.6 L505.5,176.9 L507.3,175.9 L509.0,174.9 L510.4,173.5 L512.0,172.2 L514.0,171.5 L515.3,169.9 L516.8,168.6 L518.0,166.9 L519.9,166.1 L521.3,164.6 L522.9,163.4 L524.4,162.1 L526.4,161.3 L528.0,160.1 L529.3,158.6 L530.9,157.4 L532.3,156.0 L533.9,154.8 L535.5,153.6 L536.9,152.1 L538.5,150.9 L540.0,149.6 L541.8,148.7 L543.6,147.7 L544.9,146.0 L546.8,145.3 L548.2,143.8 L550.2,143.3 L551.5,141.5 L553.1,140.4 L554.8,139.3 L556.8,138.6 L558.3,137.3 L560.0,136.2 L561.3,134.5 L563.2,133.9 L565.0,132.9 L566.7,131.8 L568.3,130.7 L570.5,130.6 L572.2,129.4 L573.9,128.4 L575.4,126.9 L577.2,126.0 L579.3,125.7 L580.3,123.6 L582.3,123.0 L584.4,122.4 L585.6,120.7 L587.3,119.6 L588.7,118.1 L590.9,117.8 L592.5,116.6 L594.0,115.2 L595.6,113.9 L597.7,113.5 L599.5,112.7 L601.1,111.5 L602.8,110.5 L604.5,109.4 L606.5,108.9 L608.1,107.6 L609.9,106.7 L611.6,105.7 L613.3,104.6 L615.0,103.6 L616.8,102.7 L618.5,101.7 L619.8,99.8 L621.6,99.0 L623.9,99.0 L625.7,98.2 L627.7,97.6 L629.0,95.8 L631.1,95.4 L632.8,94.5 L634.3,93.0 L636.4,92.6 L638.0,91.5 L639.8,90.5 L641.5,89.5 L644.0,89.9 L645.5,88.6 L646.8,86.8 L649.0,86.5 L650.6,85.3 L652.2,84.0 L654.2,83.5 L655.6,82.0 L657.5,81.3 L659.0,79.9 L661.0,79.3 L662.7,78.2 L664.4,77.2 L666.1,76.2 L667.9,75.3 L669.7,74.5 L671.9,74.5 L673.8,73.9 L675.5,72.7 L677.2,71.7 L679.3,71.4 L681.0,70.3 L682.7,69.3 L684.6,68.6 L686.4,67.8 L688.6,67.7 L690.1,66.1 L692.2,66.0 L693.8,64.6 L695.8,64.3 L697.3,62.5 L699.7,63.3 L701.7,63.1 L703.3,61.5 L705.1,60.6 L707.2,60.6 L709.0,59.6 L711.1,59.7 L713.1,59.2 L715.0,58.8 L716.9,58.2 L718.7,57.0 L720.9,57.5 L722.6,56.1 L724.6,55.8 L726.8,56.3 L728.4,54.7 L730.4,54.4 L732.4,54.1 L734.4,54.0 L736.3,53.3 L738.4,53.4 L740.1,52.0 L742.1,51.7 L744.1,51.3 L745.9,50.3 L748.0,50.4 L749.9,50.1 L751.9,49.7 L753.9,49.6 L755.8,48.9 L757.8,48.5 L759.9,49.1 L761.9,48.7" stroke="#b6b4f8" stroke-width="4.0"/>
<path d="M127.5,77.8 L129.5,77.9 L131.4,77.3 L133.4,76.8 L135.4,77.3 L137.4,77.4 L139.4,77.3 L141.4,77.5 L143.2,78.4 L145.2,78.6 L147.3,78.7 L149.2,79.4 L151.0,80.5 L152.8,81.3 L154.9,81.2 L156.9,81.7 L158.7,82.5 L160.8,82.4 L162.7,83.1 L164.5,84.3 L166.4,84.6 L168.5,84.7 L170.5,84.6 L172.4,85.3 L174.1,86.9 L176.2,86.7 L178.3,86.4 L180.1,87.5 L182.1,87.9 L184.2,87.6 L186.1,88.5 L187.9,89.3 L190.0,89.4 L191.9,90.1 L193.9,90.2 L195.9,90.6 L197.8,91.2 L199.8,91.4 L201.9,91.2 L203.8,91.9 L205.8,91.9 L207.6,93.0 L209.4,94.0 L211.5,93.8 L213.4,94.7 L215.5,94.6 L217.5,94.7 L219.4,95.3 L221.4,95.6 L223.1,96.9 L225.2,96.8 L227.2,97.1 L229.1,97.7 L231.0,98.6 L233.1,98.1 L235.0,98.7 L236.9,99.8 L238.9,100.0 L240.8,100.5 L242.8,100.8 L244.7,101.3 L246.8,101.3 L248.7,102.0 L250.6,102.5 L252.6,102.7 L254.2,104.7 L256.6,103.4 L258.5,104.1 L260.3,105.1 L262.2,105.8 L264.3,105.6 L266.3,105.7 L268.0,107.2 L270.0,107.3 L271.8,108.4 L274.0,107.9 L275.8,108.9 L277.5,110.3 L279.6,110.1 L281.6,110.4 L283.3,111.7 L285.4,111.8 L287.1,113.1 L289.1,113.4 L291.0,114.0 L293.0,114.3 L295.1,114.4 L296.9,115.3 L298.8,116.0 L300.9,115.9 L302.7,116.9 L304.6,117.6 L306.4,118.5 L308.1,119.7 L310.3,119.5 L311.9,121.0 L313.7,121.8 L315.6,122.4 L317.5,123.0 L319.3,123.9 L321.5,123.6 L323.3,124.7 L325.3,125.0 L327.2,125.7 L329.1,126.3 L330.7,127.7 L332.1,129.4 L334.1,129.8 L335.9,130.6 L337.8,131.3 L339.8,131.8 L341.6,132.8 L342.9,134.6 L345.1,134.7 L346.8,135.7 L348.4,137.1 L350.3,137.6 L352.0,138.7 L353.9,139.4 L355.7,140.2 L357.7,140.8 L359.5,141.7 L360.9,143.3 L362.6,144.3 L364.3,145.5 L366.3,145.9 L368.1,146.7 L370.0,147.6 L371.4,149.0 L373.2,150.0 L374.9,151.0 L376.7,151.9 L378.5,152.9 L379.5,154.9 L381.8,155.1 L383.3,156.5 L384.6,158.0 L386.3,159.1 L387.9,160.3 L389.7,161.2 L391.5,162.2 L392.8,163.7 L394.1,165.3 L395.7,166.6 L397.1,168.0 L399.0,168.8 L400.2,170.5 L401.5,172.1 L402.7,173.7 L404.5,174.7 L406.4,175.6 L408.0,176.8 L409.2,178.5 L410.1,180.4 L411.7,181.5 L412.6,183.4 L414.7,184.2 L415.5,186.1 L416.1,188.0 L417.6,189.5 L419.1,191.0 L419.5,193.0 L420.8,194.6 L421.2,196.7 L422.3,198.3 L423.0,200.2 L423.3,202.2 L424.9,203.7 L425.4,205.6 L426.6,207.3 L426.7,209.4 L427.7,211.2 L428.0,213.2 L429.0,215.0 L429.1,217.1 L430.4,218.7 L430.6,220.7 L431.7,222.5 L433.1,224.2 L433.3,226.2 L432.9,228.4 L434.8,229.9 L434.3,232.2 L435.4,233.9 L435.9,235.9 L436.9,237.7 L436.4,239.9 L436.4,241.9 L436.8,243.9 L437.7,245.7 L437.8,247.8 L438.4,249.7 L438.0,251.8 L438.4,253.7 L438.4,255.7 L438.5,257.7 L438.4,259.7 L439.1,261.7 L439.2,263.7 L438.6,265.7 L438.7,267.7 L439.8,269.7 L439.4,271.7 L438.8,273.7 L439.2,275.7 L438.6,277.7 L439.0,279.7 L439.5,281.7 L440.1,283.7 L439.1,285.7 L439.5,287.7 L439.6,289.7 L439.5,291.7 L439.7,293.7 L439.4,295.7 L439.5,297.7 L439.8,299.7 L440.1,301.7 L440.5,303.7 L439.8,305.7 L439.4,307.7 L439.5,309.7 L439.8,311.7 L440.0,313.7 L439.6,315.7 L440.5,317.7 L440.2,319.7 L440.1,321.7 L440.0,323.7 L440.2,325.7 L440.7,327.7 L439.9,329.7 L439.9,331.7 L439.8,333.8 L439.9,335.8 L440.0,337.8 L440.7,339.7 L441.4,341.7 L440.6,343.7 L441.0,345.7 L440.7,347.7 L440.9,349.7 L440.9,351.7 L440.7,353.8 L440.7,355.8 L440.8,357.8 L440.5,359.8 L440.5,361.8 L440.2,363.8 L440.5,365.8 L441.3,367.8 L441.7,369.7 L441.3,371.8 L440.9,373.8 L440.7,375.8 L440.0,377.8 L441.0,379.8 L440.9,381.8 L441.5,383.8 L441.5,385.8 L441.1,387.8 L441.2,389.8 L440.7,391.8 L440.6,393.8 L441.5,395.8 L441.6,397.8 L441.3,399.8 L442.0,401.8 L441.2,403.8 L442.0,405.8 L442.0,407.8 L441.2,409.8 L442.3,411.8 L442.0,413.8 L441.8,415.8 L441.9,417.8 L442.1,419.8 L441.6,421.8 L441.5,423.8 L441.2,425.8 L442.1,427.8 L441.9,429.8 L442.3,431.8 L441.8,433.8 L441.3,435.8 L441.9,437.8 L442.4,439.8 L442.5,441.8 L443.1,443.8 L442.8,445.8 L442.5,447.8 L442.9,449.8 L442.9,451.8 L442.2,453.8 L441.9,455.8 L442.3,457.8 L441.7,459.8 L443.0,461.8 L443.0,463.8 L443.2,465.8 L443.3,467.8 L443.1,469.8 L443.0,471.8 L443.3,473.8 L443.7,475.8 L443.1,477.8 L443.4,479.8 L443.3,481.8 L443.5,483.8 L443.8,485.8 L443.5,487.8 L443.6,489.8 L443.9,491.8 L444.7,493.8 L443.9,495.2 L444.3,493.2 L444.1,491.2 L443.8,489.2 L444.0,487.2 L444.3,485.2 L445.2,483.2 L444.5,481.2 L444.3,479.2 L444.9,477.2 L445.6,475.2 L445.2,473.2 L445.4,471.2 L444.9,469.2 L445.9,467.2 L445.0,465.2 L445.1,463.2 L445.6,461.2 L445.2,459.2 L446.1,457.2 L445.8,455.2 L445.9,453.2 L445.6,451.2 L445.7,449.2 L444.9,447.2 L445.8,445.2 L445.2,443.2 L445.6,441.2 L445.9,439.2 L445.8,437.2 L446.0,435.2 L446.8,433.2 L446.4,431.2 L447.1,429.2 L446.6,427.2 L446.3,425.2 L446.6,423.2 L446.1,421.2 L446.0,419.2 L447.0,417.2 L446.7,415.2 L447.1,413.2 L446.7,411.2 L446.7,409.2 L447.4,407.2 L446.5,405.2 L447.1,403.2 L447.0,401.2 L447.5,399.2 L447.1,397.2 L447.4,395.2 L447.5,393.2 L447.1,391.2 L447.7,389.2 L447.4,387.2 L447.4,385.2 L447.5,383.2 L447.9,381.2 L448.4,379.2 L447.7,377.2 L448.3,375.2 L447.8,373.2 L447.7,371.2 L448.0,369.2 L447.9,367.2 L448.6,365.2 L448.2,363.2 L449.1,361.2 L448.8,359.2 L448.3,357.2 L447.9,355.2 L448.7,353.2 L448.7,351.2 L448.4,349.2 L448.9,347.2 L449.0,345.2 L448.6,343.2 L448.9,341.2 L449.5,339.2 L449.5,337.2 L448.7,335.2 L449.4,333.2 L449.9,331.2 L449.4,329.2 L450.0,327.2 L449.5,325.2 L449.1,323.2 L449.2,321.2 L449.7,319.2 L449.6,317.2 L449.8,315.2 L449.9,313.2 L450.4,311.2 L449.6,309.2 L450.4,307.2 L449.7,305.2 L451.0,303.2 L450.0,301.2 L450.2,299.2 L450.0,297.2 L450.8,295.2 L451.1,293.2 L450.6,291.2 L451.1,289.2 L451.5,287.2 L451.1,285.2 L450.7,283.2 L451.0,281.2 L452.0,279.2 L451.5,277.2 L451.3,275.2 L452.7,273.3 L452.0,271.2 L452.1,269.2 L452.4,267.2 L452.5,265.2 L452.5,263.2 L452.1,261.2 L452.8,259.3 L452.9,257.3 L452.9,255.2 L453.4,253.3 L454.0,251.3 L453.2,249.2 L454.2,247.3 L453.6,245.3 L454.3,243.3 L454.8,241.3 L454.3,239.3 L455.2,237.4 L455.4,235.4 L455.2,233.3 L455.7,231.4 L455.8,229.4 L456.1,227.4 L456.0,225.4 L457.5,223.6 L457.1,221.5 L457.0,219.4 L457.5,217.5 L458.1,215.6 L459.1,213.8 L459.0,211.7 L460.1,209.9 L460.9,208.1 L460.8,206.0 L461.2,204.0 L461.9,202.1 L462.7,200.3 L462.7,198.1 L464.2,196.6 L465.2,194.8 L465.1,192.6 L466.0,190.8 L466.3,188.8 L467.4,187.0 L468.8,185.5 L469.2,183.5 L469.9,181.6 L470.7,179.8 L472.0,178.2 L473.0,176.4 L474.2,174.8 L474.2,172.6 L475.6,171.0 L476.5,169.2 L477.8,167.6 L479.1,166.1 L479.7,164.2 L480.1,162.1 L481.5,160.6 L482.5,158.8 L483.4,157.0 L484.4,155.3 L485.8,153.8 L487.0,152.2 L487.9,150.4 L489.7,149.2 L490.6,147.4 L492.1,146.1 L493.3,144.5 L494.5,142.9 L495.4,141.0 L497.2,139.9 L498.4,138.3 L499.5,136.6 L501.3,135.6 L502.1,133.6 L503.6,132.3 L504.7,130.5 L506.1,129.1 L507.5,127.7 L509.6,126.8 L511.0,125.5 L512.4,124.0 L513.2,122.0 L514.5,120.5 L516.7,119.8 L517.3,117.6 L519.0,116.5 L520.4,115.1 L522.3,114.3 L523.1,112.1 L525.1,111.4 L526.8,110.3 L528.1,108.7 L529.7,107.5 L530.4,105.2 L532.7,104.9 L534.0,103.3 L535.1,101.5 L536.8,100.4 L538.3,99.1 L539.7,97.6 L541.3,96.4 L543.1,95.5 L544.7,94.3 L546.2,93.0 L548.0,92.0 L549.5,90.7 L551.1,89.5 L553.0,88.6 L554.2,86.9 L555.7,85.5 L557.8,85.1 L559.2,83.5 L560.8,82.4 L562.6,81.5 L564.3,80.4 L565.7,78.9 L567.3,77.7 L569.1,76.8 L570.9,75.9 L572.4,74.6 L574.3,73.7 L575.8,72.4 L577.7,71.7 L579.0,70.0 L580.9,69.3 L582.4,67.8 L584.3,67.2 L585.6,65.4 L587.7,65.0 L589.5,64.1 L591.4,63.4 L593.1,62.4 L594.8,61.4 L596.7,60.6 L598.5,59.8 L600.2,58.7 L602.1,58.0 L603.8,56.9 L605.4,55.8 L607.5,55.4 L609.4,54.8 L611.3,54.1 L612.9,52.8 L614.5,51.5 L616.3,50.6 L618.3,50.2 L620.2,49.6 L621.9,48.5 L623.9,47.9 L625.8,47.4 L627.6,46.5 L629.5,45.9 L631.3,45.0 L633.3,44.7 L635.0,43.5 L637.1,43.3 L639.0,42.9 L640.5,41.1 L642.6,40.9 L644.7,40.9 L646.4,39.7 L648.1,38.3 L650.2,38.3 L652.1,37.8 L653.9,36.8 L655.9,36.7 L657.8,36.0 L659.8,35.6 L661.7,35.3 L663.7,35.3 L665.7,35.3 L667.7,35.3 L669.7,35.3 L671.7,35.3 L673.7,35.3 L675.7,35.3 L677.7,35.3 L679.8,35.3 L681.8,35.3 L683.8,35.3 L685.8,35.3 L687.8,35.3 L689.8,35.3 L691.8,35.3 L693.8,35.3 L695.8,35.3 L697.8,35.3 L699.8,35.3 L701.8,35.3 L703.8,35.3 L705.8,35.3 L707.8,35.3 L709.8,35.3 L711.8,35.3 L713.8,35.3 L715.8,35.3 L717.8,35.3 L719.8,35.3 L721.8,35.3 L723.8,35.3 L725.8,35.3 L727.8,35.3 L729.8,35.3 L731.8,35.3 L733.8,35.3 L735.8,35.3 L737.8,35.3 L739.8,35.3 L741.8,35.3 L743.8,35.3 L745.8,35.3 L747.8,35.3 L749.8,35.3 L751.7,35.3 L753.8,35.3 L755.8,35.3 L757.8,35.3 L759.8,35.3 L761.8,35.3" stroke="#5c5ce8" stroke-width="3.8"/>
<path d="M127.4,122.0 L129.4,122.3 L131.0,124.0 L133.1,124.1 L135.0,124.6 L136.9,125.5 L138.8,126.0 L140.6,126.8 L142.6,127.2 L144.4,127.8 L146.5,128.0 L148.4,128.7 L150.3,129.3 L152.1,130.1 L154.1,130.3 L156.0,130.5 L157.9,131.8 L159.9,132.0 L161.9,131.0 L163.9,131.3 L165.9,131.9 L167.9,131.4 L169.9,131.8 L171.9,132.0 L173.9,131.8 L175.9,132.2 L177.9,132.1 L179.8,132.8 L181.9,132.8 L183.8,133.1 L185.8,133.5 L187.8,133.6 L189.7,134.1 L191.7,134.5 L193.5,135.2 L195.6,135.4 L197.2,136.7 L198.9,137.9 L200.8,138.6 L202.6,139.4 L204.6,139.9 L206.2,141.1 L208.1,141.7 L210.0,142.4 L212.2,142.2 L213.8,143.8 L215.9,143.6 L217.7,144.4 L219.5,145.5 L221.5,145.7 L223.6,145.5 L225.6,145.1 L227.6,145.2 L229.6,145.3 L231.5,146.4 L233.5,146.8 L235.5,147.0 L237.4,147.3 L239.4,147.5 L241.4,147.9 L243.4,147.9 L245.5,148.1 L247.2,149.3 L249.2,149.6 L250.9,150.7 L252.9,151.0 L254.8,151.8 L256.8,152.1 L258.6,152.9 L260.5,153.6 L262.2,154.7 L264.0,155.7 L265.9,156.2 L267.7,157.1 L269.4,158.2 L271.3,158.8 L273.2,159.4 L275.0,160.3 L276.7,161.5 L278.6,162.1 L280.5,162.5 L282.6,162.3 L284.5,162.5 L286.4,163.2 L288.4,163.5 L290.3,164.2 L292.2,164.5 L294.3,164.6 L296.1,165.4 L298.0,166.1 L299.9,166.6 L302.1,166.4 L303.8,167.6 L305.5,168.8 L307.1,170.1 L309.1,170.6 L311.0,171.1 L312.9,171.7 L314.6,172.8 L316.4,173.6 L318.4,174.1 L320.2,175.0 L322.4,175.2 L323.8,176.9 L325.4,178.0 L327.5,178.4 L329.0,179.9 L330.9,180.5 L332.6,181.6 L334.2,182.7 L335.9,183.8 L337.7,184.8 L339.7,185.2 L341.2,186.7 L343.0,187.5 L345.0,188.0 L346.6,189.2 L348.6,189.8 L350.2,191.1 L352.1,191.6 L353.8,192.8 L355.8,193.2 L357.4,194.4 L359.3,195.2 L361.3,195.6 L362.5,197.6 L364.4,198.3 L366.2,199.2 L367.8,200.5 L369.5,201.6 L370.3,203.7 L372.0,204.8 L373.0,206.7 L375.0,207.4 L376.6,208.6 L378.4,209.6 L379.5,211.4 L381.4,212.2 L383.2,213.3 L384.2,215.2 L385.7,216.4 L387.3,217.7 L388.9,218.9 L390.0,220.6 L391.2,222.3 L393.1,223.2 L394.5,224.6 L396.1,225.9 L397.5,227.3 L398.9,228.8 L400.3,230.2 L401.1,232.1 L402.0,234.0 L403.6,235.2 L405.6,236.2 L406.5,238.1 L407.5,239.8 L408.9,241.2 L409.8,243.1 L411.3,244.4 L412.1,246.3 L414.3,247.1 L415.3,248.9 L416.8,250.3 L417.5,252.2 L418.7,253.9 L419.8,255.5 L420.6,257.3 L422.0,258.9 L422.9,260.6 L423.4,262.6 L424.4,264.3 L425.4,266.1 L426.2,267.9 L426.8,269.8 L428.1,271.4 L429.3,273.1 L429.3,275.2 L429.5,277.3 L430.2,279.2 L431.6,280.8 L431.6,282.9 L431.9,284.9 L433.2,286.6 L433.2,288.7 L434.3,290.5 L435.1,292.3 L435.4,294.3 L435.8,296.3 L436.0,298.3 L436.4,300.2 L436.2,302.3 L437.6,304.1 L437.2,306.1 L437.4,308.1 L438.1,310.1 L439.1,312.0 L438.3,314.1 L438.7,316.0 L439.3,318.0 L438.7,320.1 L438.7,322.1 L438.8,324.1 L439.0,326.0 L439.1,328.0 L438.8,330.1 L439.3,332.0 L439.0,334.1 L439.0,336.1 L440.3,338.0 L440.0,340.0 L439.7,342.0 L439.6,344.0 L439.6,346.0 L440.3,348.0 L439.2,350.1 L439.6,352.0 L439.3,354.0 L439.0,356.1 L440.0,358.0 L440.1,360.0 L439.9,362.0 L439.6,364.0 L440.1,366.0 L439.2,368.1 L439.8,370.0 L440.0,372.0 L440.0,374.0 L440.3,376.0 L440.1,378.0 L439.4,380.1 L440.3,382.0 L440.6,384.0 L440.2,386.0 L440.5,388.0 L440.5,390.0 L440.2,392.0 L440.4,394.0 L441.0,396.0 L440.0,398.1 L440.7,400.0 L440.3,402.0 L440.6,404.0 L441.0,406.0 L441.3,408.0 L439.8,410.1 L440.5,412.0 L441.1,414.0 L441.2,416.0 L440.8,418.0 L440.6,420.0 L440.9,422.0 L440.7,424.0 L441.1,426.0 L441.0,428.0 L440.6,430.1 L441.4,432.0 L442.0,434.0 L441.5,436.0 L441.8,438.0 L441.6,440.0 L441.8,442.0 L441.8,444.0 L441.9,446.0 L441.2,448.0 L441.1,450.0 L441.5,452.0 L441.5,454.0 L441.8,456.0 L441.5,458.0 L441.7,460.0 L441.9,462.0 L441.9,464.0 L442.0,466.0 L442.4,468.0 L442.2,470.0 L442.6,472.0 L441.9,474.0 L442.9,476.0 L442.1,478.0 L442.8,480.0 L442.7,482.0 L442.4,484.0 L441.9,486.0 L442.1,488.0 L443.3,490.0 L442.2,492.0 L443.0,494.0 L443.0,496.0 L443.2,498.0 L443.0,500.0 L443.7,502.0 L443.4,504.0 L443.3,506.0 L442.8,508.0 L443.9,510.0 L443.5,512.0 L442.9,514.0 L443.5,516.0 L444.0,518.0 L443.8,520.0 L444.0,522.0 L443.9,524.0 L443.5,526.0 L443.8,528.0 L443.5,530.0 L443.4,532.0 L444.1,534.0 L444.1,536.0 L443.7,538.0 L444.5,540.0 L444.5,542.0 L444.6,544.0 L443.9,543.0 L444.2,541.0 L444.5,539.0 L444.8,537.0 L444.8,535.0 L444.8,533.0 L445.2,531.0 L444.5,529.0 L445.4,527.0 L445.6,525.0 L445.6,523.0 L445.2,521.0 L444.8,519.0 L445.6,517.0 L445.6,515.0 L444.9,513.0 L445.0,511.0 L445.6,509.0 L445.8,507.0 L445.2,505.0 L446.0,503.0 L445.8,501.0 L445.4,499.0 L446.1,497.0 L446.0,495.0 L447.0,493.0 L446.1,491.0 L445.7,489.0 L445.7,487.0 L446.5,485.0 L445.4,483.0 L445.7,481.0 L445.8,479.0 L445.5,477.0 L445.9,475.0 L446.4,473.0 L446.8,471.0 L446.2,469.0 L446.9,467.0 L446.7,465.0 L447.6,463.0 L447.3,461.0 L446.5,459.0 L446.5,457.0 L447.0,455.0 L446.8,453.0 L446.8,451.0 L446.9,449.0 L446.7,447.0 L447.0,445.0 L446.7,443.0 L446.7,441.0 L447.1,439.0 L447.9,437.0 L447.6,435.0 L447.0,433.0 L447.7,431.0 L447.5,429.0 L447.4,427.0 L447.0,425.0 L447.0,423.0 L447.0,421.0 L448.4,419.1 L447.7,417.0 L447.8,415.0 L448.1,413.0 L447.9,411.0 L447.4,409.0 L447.7,407.0 L448.2,405.0 L448.4,403.0 L448.5,401.0 L448.4,399.0 L447.9,397.0 L448.4,395.0 L447.9,393.0 L447.8,391.0 L447.9,389.0 L447.7,387.0 L448.4,385.0 L448.2,383.0 L448.9,381.0 L448.0,379.0 L448.0,377.0 L447.6,375.0 L448.8,373.0 L448.7,371.0 L448.5,369.0 L448.5,367.0 L448.4,365.0 L448.7,363.0 L449.2,361.1 L448.8,359.0 L448.8,357.0 L449.0,355.0 L449.3,353.0 L448.9,351.0 L449.1,349.0 L448.7,347.0 L449.5,345.1 L449.2,343.0 L449.3,341.0 L449.5,339.1 L448.9,337.0 L449.6,335.1 L449.2,333.0 L449.5,331.0 L450.7,329.1 L450.1,327.1 L449.8,325.0 L449.5,323.0 L450.5,321.1 L450.5,319.1 L451.2,317.1 L451.5,315.2 L451.8,313.2 L452.0,311.2 L452.2,309.2 L452.3,307.2 L452.2,305.2 L452.8,303.2 L453.5,301.3 L453.9,299.4 L454.2,297.4 L454.0,295.3 L454.7,293.4 L454.7,291.4 L454.7,289.3 L455.9,287.6 L456.2,285.6 L457.8,283.9 L457.8,281.9 L458.3,279.9 L458.0,277.8 L458.5,275.8 L459.4,274.0 L460.5,272.2 L460.4,270.1 L461.7,268.5 L461.9,266.4 L462.8,264.6 L463.4,262.7 L464.4,261.0 L465.5,259.3 L466.2,257.4 L467.7,255.9 L468.4,254.0 L468.6,251.9 L469.2,249.9 L470.0,248.1 L470.9,246.3 L472.5,244.9 L473.6,243.3 L473.9,241.1 L475.1,239.5 L476.6,238.1 L477.2,236.1 L478.4,234.5 L480.1,233.2 L480.5,231.1 L481.9,229.6 L482.7,227.7 L483.8,226.1 L485.3,224.7 L486.8,223.3 L487.3,221.2 L488.9,219.9 L490.0,218.2 L491.4,216.8 L492.7,215.2 L493.3,213.2 L495.3,212.2 L496.9,210.9 L497.5,208.9 L498.5,207.1 L499.8,205.5 L500.9,203.9 L502.2,202.4 L503.0,200.4 L504.9,199.4 L506.8,198.4 L507.1,196.0 L508.3,194.4 L510.0,193.2 L511.9,192.3 L513.4,191.0 L514.5,189.2 L515.8,187.7 L517.1,186.2 L517.9,184.2 L519.8,183.3 L521.7,182.3 L522.6,180.4 L524.2,179.2 L525.8,177.9 L527.1,176.4 L528.2,174.7 L529.9,173.5 L531.3,172.1 L533.0,170.9 L534.0,169.1 L535.0,167.4 L536.2,165.7 L537.8,164.4 L538.8,162.7 L540.1,161.1 L541.0,159.3 L542.7,158.1 L543.7,156.4 L544.8,154.7 L546.6,153.6 L548.1,152.2 L549.1,150.4 L550.0,148.6 L550.7,146.6 L551.9,144.9 L554.2,144.3 L555.5,142.8 L557.0,141.4 L557.6,139.2 L559.6,138.4 L560.9,136.8 L563.1,136.3 L564.4,134.8 L565.5,133.0 L567.2,131.8 L568.7,130.6 L570.5,129.6 L572.4,128.7 L573.2,126.6 L574.9,125.5 L576.4,124.1 L577.3,122.1 L579.2,121.3 L580.7,120.0 L582.5,119.0 L583.7,117.4 L585.2,116.0 L586.6,114.6 L588.3,113.4 L589.7,112.0 L591.2,110.7 L592.1,108.7 L594.3,108.2 L595.8,106.9 L597.6,105.8 L598.4,103.7 L600.1,102.6 L601.9,101.7 L602.8,99.6 L604.4,98.5 L606.0,97.3 L608.0,96.6 L609.4,95.0 L611.1,94.0 L612.7,92.7 L613.9,91.1 L615.8,90.2 L617.2,88.8 L618.6,87.3 L620.4,86.4 L621.9,85.0 L623.7,84.2 L624.9,82.5 L626.4,81.1 L628.6,80.7 L630.1,79.3 L631.9,78.4 L633.0,76.5 L635.0,75.9 L636.4,74.4 L638.0,73.1 L639.9,72.5 L641.6,71.4 L643.7,70.9 L645.2,69.6 L646.8,68.4 L648.4,67.1 L650.4,66.5 L652.4,66.2 L654.1,65.1 L656.0,64.3 L657.3,62.6 L659.1,61.7 L661.0,61.1 L662.9,60.3 L664.4,58.8 L666.2,58.0 L668.3,57.7 L670.1,56.9 L671.7,55.7 L673.4,54.5 L675.2,53.7 L677.3,53.5 L679.0,52.3 L681.0,52.0 L683.0,51.6 L684.8,50.6 L686.6,49.8 L688.8,50.0 L690.7,49.3 L692.4,48.2 L694.3,47.5 L696.0,46.3 L697.9,45.8 L700.2,46.2 L701.8,44.6 L703.9,44.7 L705.8,44.0 L707.7,43.5 L709.4,42.3 L711.4,41.9 L713.3,41.4 L715.2,40.8 L717.4,41.1 L719.2,39.9 L721.3,40.2 L723.1,39.3 L725.0,38.4 L726.9,37.7 L729.0,38.1 L731.0,38.0 L732.8,36.9 L734.9,37.0 L736.8,36.5 L738.8,36.4 L740.8,36.2 L742.8,36.0 L744.8,35.9 L746.8,35.8 L748.8,35.7 L750.8,35.6 L752.8,35.6 L754.8,35.6 L756.8,35.6 L758.8,35.5 L760.8,35.5 L761.8,35.5" stroke="#00008c" stroke-width="4.2"/>
<path d="M127.4,67.2 L129.3,68.1 L131.4,67.7 L133.3,68.3 L135.4,68.0 L137.4,68.6 L139.3,69.1 L141.2,69.7 L143.4,68.8 L145.2,69.9 L147.3,69.5 L149.3,69.8 L151.0,71.4 L153.1,71.3 L155.1,71.5 L156.9,72.8 L159.0,72.2 L160.9,72.8 L163.0,72.9 L165.0,73.1 L167.0,73.1 L168.9,73.9 L170.8,74.3 L172.9,74.2 L174.7,75.6 L176.7,75.6 L178.8,75.5 L180.7,76.1 L182.6,76.7 L184.5,77.3 L186.5,77.5 L188.3,78.7 L190.5,78.3 L192.2,79.6 L194.1,80.2 L196.0,81.0 L198.0,81.1 L199.9,81.7 L201.8,82.6 L203.9,82.0 L205.7,83.3 L207.8,83.1 L209.8,83.4 L211.6,84.5 L213.9,83.4 L215.7,84.4 L217.6,85.3 L219.5,85.8 L221.7,85.1 L223.6,85.7 L225.4,86.9 L227.4,87.2 L229.3,87.6 L231.5,87.2 L233.4,87.9 L235.3,88.6 L237.2,89.2 L239.0,90.2 L241.1,90.1 L243.2,89.8 L244.8,91.5 L246.7,92.2 L248.6,92.7 L250.7,92.7 L252.4,94.3 L254.3,94.7 L256.2,95.4 L258.4,95.1 L260.2,95.8 L262.1,96.4 L264.3,96.2 L265.8,98.0 L267.7,98.8 L269.8,98.7 L271.8,99.2 L273.6,100.0 L275.5,100.5 L277.3,101.6 L279.4,101.5 L281.4,101.9 L283.3,102.6 L285.2,103.1 L287.1,103.7 L289.0,104.5 L290.9,105.0 L292.8,105.5 L294.7,106.4 L296.6,107.0 L298.4,107.8 L300.4,108.3 L302.3,108.7 L304.1,109.6 L305.9,110.5 L308.0,110.7 L309.9,111.1 L311.9,111.5 L313.8,112.2 L315.6,113.2 L317.5,113.6 L319.3,114.6 L321.3,114.9 L323.0,116.1 L325.1,116.2 L326.4,118.3 L328.4,118.6 L330.4,119.1 L332.2,120.0 L333.9,121.0 L336.1,121.2 L337.9,122.0 L339.4,123.5 L341.2,124.4 L343.0,125.3 L345.0,125.7 L346.6,127.0 L348.0,128.6 L349.8,129.5 L351.9,129.8 L353.8,130.5 L355.4,131.7 L356.9,133.1 L359.1,133.4 L360.5,134.8 L362.3,135.7 L364.2,136.5 L365.9,137.5 L367.4,139.0 L369.2,139.7 L370.7,141.1 L372.7,141.8 L374.3,143.0 L376.2,143.7 L377.3,145.6 L378.9,146.9 L380.4,148.1 L381.9,149.5 L383.5,150.7 L385.8,151.0 L387.2,152.4 L388.6,153.9 L390.4,154.8 L391.5,156.6 L393.3,157.7 L394.2,159.6 L396.1,160.5 L397.6,161.8 L398.7,163.6 L400.7,164.4 L401.1,166.8 L403.3,167.4 L404.5,169.1 L405.3,171.0 L407.1,172.1 L407.7,174.1 L409.4,175.4 L410.3,177.2 L411.7,178.6 L413.5,179.8 L413.9,182.0 L415.2,183.5 L416.0,185.3 L416.7,187.2 L418.5,188.5 L418.5,190.8 L420.0,192.3 L420.8,194.1 L422.5,195.5 L422.8,197.6 L423.9,199.3 L424.9,201.0 L425.6,202.9 L425.6,205.0 L427.1,206.6 L427.4,208.7 L428.5,210.4 L428.9,212.3 L429.3,214.3 L430.8,215.9 L431.0,218.0 L432.0,219.8 L432.2,221.8 L432.9,223.7 L432.7,225.8 L433.3,227.7 L434.5,229.4 L435.5,231.2 L435.0,233.4 L436.1,235.2 L436.1,237.3 L436.5,239.2 L436.6,241.3 L437.1,243.2 L437.1,245.2 L437.4,247.2 L437.8,249.1 L438.9,251.0 L438.4,253.1 L438.4,255.1 L438.8,257.1 L438.7,259.1 L438.7,261.1 L438.6,263.1 L439.8,265.0 L439.6,267.0 L439.4,269.1 L439.2,271.1 L439.4,273.1 L439.8,275.1 L439.3,277.1 L438.8,279.1 L439.9,281.1 L439.9,283.1 L439.6,285.1 L439.5,287.1 L440.5,289.0 L440.3,291.1 L439.4,293.1 L440.1,295.1 L440.3,297.1 L440.1,299.1 L439.7,301.1 L440.0,303.1 L439.7,305.1 L440.8,307.1 L439.8,309.1 L440.6,311.1 L440.3,313.1 L440.4,315.1 L440.6,317.1 L440.2,319.1 L439.8,321.1 L440.2,323.1 L440.1,325.1 L439.9,327.1 L439.7,329.1 L440.6,331.1 L440.3,333.1 L440.5,335.1 L440.5,337.1 L440.5,339.1 L440.7,341.1 L441.5,343.1 L441.0,345.1 L440.7,347.1 L441.3,349.1 L440.1,351.1 L440.3,353.1 L440.5,355.1 L440.2,357.1 L440.8,359.1 L441.2,361.1 L440.8,363.1 L440.2,365.1 L440.8,367.1 L441.3,369.1 L441.1,371.1 L440.7,373.1 L441.2,375.1 L441.0,377.1 L441.0,379.1 L440.5,381.1 L441.4,383.1 L440.6,385.1 L441.3,387.1 L441.3,389.1 L441.3,391.1 L441.2,393.1 L441.1,395.1 L441.4,397.1 L441.5,399.1 L441.2,401.1 L441.8,403.1 L441.6,405.1 L441.7,407.1 L440.5,409.1 L441.3,411.1 L441.7,413.1 L441.5,415.1 L441.9,417.1 L441.8,419.1 L441.5,421.1 L441.7,423.1 L441.2,425.1 L441.9,427.1 L441.6,429.1 L441.4,431.1 L441.4,433.1 L442.2,435.1 L441.9,437.1 L442.1,439.1 L442.3,441.1 L442.1,443.1 L442.4,445.1 L442.5,447.1 L442.1,449.1 L441.7,451.1 L441.9,453.1 L442.0,455.1 L442.9,457.1 L442.8,459.1 L442.5,461.1 L442.1,463.1 L441.9,465.1 L442.5,467.1 L442.9,469.1 L442.9,471.1 L442.9,473.1 L442.7,475.1 L443.0,477.1 L442.9,479.1 L443.4,481.1 L443.5,483.1 L442.8,485.1 L444.0,487.0 L443.5,489.1 L443.0,491.1 L443.8,493.0 L444.3,495.0 L444.3,497.0 L444.1,499.0 L444.8,500.0 L445.1,498.0 L445.0,496.0 L445.6,494.0 L445.2,492.0 L445.7,490.0 L445.0,488.0 L445.4,486.0 L445.5,484.0 L445.2,482.0 L445.6,480.0 L445.7,478.0 L444.8,476.0 L445.8,474.0 L446.1,472.0 L446.4,470.0 L446.7,468.1 L446.1,466.0 L445.9,464.0 L446.7,462.1 L446.5,460.0 L446.7,458.0 L446.9,456.1 L447.2,454.1 L446.6,452.0 L446.8,450.0 L446.9,448.0 L447.4,446.1 L447.0,444.0 L447.0,442.0 L446.9,440.0 L447.0,438.0 L446.7,436.0 L446.2,434.0 L446.3,432.0 L446.0,430.0 L447.3,428.0 L447.2,426.0 L447.1,424.0 L446.6,422.0 L447.4,420.0 L448.0,418.1 L447.0,416.0 L447.0,414.0 L447.2,412.0 L447.2,410.0 L447.4,408.0 L447.5,406.0 L447.7,404.0 L447.8,402.0 L447.8,400.0 L447.1,398.0 L447.8,396.0 L447.7,394.0 L447.4,392.0 L448.6,390.1 L447.5,388.0 L447.8,386.0 L447.6,384.0 L447.8,382.0 L447.0,380.0 L447.6,378.0 L448.2,376.0 L448.3,374.0 L447.8,372.0 L447.5,370.0 L448.1,368.0 L448.5,366.0 L447.9,364.0 L447.7,362.0 L447.1,360.0 L448.2,358.0 L448.2,356.0 L449.0,354.0 L448.1,352.0 L448.3,350.0 L449.1,348.0 L447.5,346.0 L448.3,344.0 L448.1,342.0 L448.2,340.0 L448.6,338.0 L448.5,336.0 L447.9,334.0 L447.7,332.0 L448.4,330.0 L448.8,328.0 L448.2,326.0 L448.0,324.0 L449.1,322.0 L448.8,320.0 L448.7,318.0 L448.1,316.0 L448.6,314.0 L449.0,312.0 L449.6,310.0 L449.0,308.0 L449.0,306.0 L449.2,304.0 L448.8,302.0 L449.0,300.0 L449.1,298.0 L449.0,296.0 L448.8,294.0 L448.5,292.0 L449.1,290.0 L449.5,288.0 L449.8,286.1 L449.9,284.1 L449.8,282.1 L449.0,280.0 L449.8,278.0 L450.1,276.1 L449.7,274.0 L449.9,272.0 L449.9,270.0 L450.9,268.1 L451.0,266.1 L450.6,264.1 L450.8,262.1 L451.7,260.2 L451.8,258.2 L452.2,256.2 L452.5,254.2 L452.5,252.2 L452.6,250.2 L453.5,248.3 L452.9,246.2 L454.0,244.3 L453.5,242.2 L454.7,240.4 L455.2,238.4 L455.1,236.4 L455.2,234.4 L455.6,232.4 L456.3,230.5 L456.3,228.5 L457.2,226.7 L457.2,224.6 L457.4,222.6 L458.9,220.9 L458.7,218.8 L458.8,216.8 L459.0,214.7 L460.7,213.2 L461.0,211.2 L461.6,209.3 L462.0,207.3 L463.2,205.6 L462.8,203.3 L464.0,201.6 L465.3,200.0 L465.0,197.7 L466.5,196.1 L467.5,194.4 L469.1,193.0 L470.2,191.4 L470.6,189.3 L471.7,187.6 L473.2,186.2 L474.0,184.3 L475.4,182.8 L476.5,181.2 L477.5,179.4 L478.9,178.0 L480.1,176.4 L481.4,174.8 L482.2,172.9 L483.7,171.6 L485.3,170.3 L486.8,168.9 L487.1,166.6 L489.4,165.9 L490.6,164.3 L491.6,162.5 L492.4,160.6 L494.3,159.6 L495.2,157.7 L497.1,156.7 L498.1,154.9 L499.6,153.5 L501.2,152.4 L503.3,151.6 L504.3,149.8 L505.9,148.6 L507.1,147.0 L508.5,145.5 L510.2,144.4 L511.8,143.2 L513.4,142.0 L515.1,140.9 L516.4,139.4 L517.7,137.8 L519.6,136.9 L521.2,135.8 L522.8,134.6 L524.5,133.5 L526.5,132.8 L527.6,131.0 L528.7,129.0 L530.6,128.2 L532.4,127.3 L534.5,126.8 L535.8,125.2 L537.9,124.8 L539.4,123.4 L541.2,122.4 L542.5,120.8 L544.2,119.8 L545.5,118.1 L547.0,116.7 L549.0,116.2 L551.2,115.9 L552.4,114.1 L554.1,113.0 L555.7,111.8 L557.1,110.2 L559.3,110.0 L560.8,108.7 L562.7,108.0 L564.5,107.0 L566.2,106.0 L567.6,104.4 L569.7,104.0 L571.4,103.0 L573.4,102.5 L574.6,100.6 L576.5,99.8 L578.1,98.6 L579.4,96.9 L581.2,96.0 L583.1,95.3 L584.7,94.0 L586.3,92.8 L588.2,92.2 L589.6,90.6 L591.8,90.3 L593.0,88.5 L594.8,87.6 L596.6,86.7 L598.1,85.4 L600.1,84.8 L602.1,84.3 L603.8,83.2 L605.2,81.6 L607.5,81.8 L609.2,80.6 L611.0,79.8 L612.5,78.3 L614.5,77.8 L616.4,77.2 L618.1,76.0 L620.1,75.6 L621.7,74.4 L623.4,73.3 L625.4,72.8 L626.9,71.3 L628.9,70.8 L630.9,70.4 L632.6,69.3 L634.1,67.8 L636.3,67.7 L637.9,66.5 L640.0,66.2 L641.8,65.4 L643.4,64.0 L645.5,63.9 L646.9,62.2 L648.8,61.4 L650.7,61.0 L652.7,60.4 L654.3,59.0 L656.2,58.5 L658.1,57.8 L659.6,56.3 L661.7,55.9 L663.5,55.2 L665.6,55.1 L667.1,53.4 L669.0,52.7 L671.0,52.4 L673.1,52.3 L675.3,52.5 L677.0,51.4 L678.9,50.6 L680.7,49.9 L682.8,49.7 L684.6,49.0 L686.3,47.7 L688.5,47.9 L690.2,46.6 L692.1,46.1 L694.1,45.8 L696.0,45.1 L698.0,44.6 L699.7,43.6 L701.7,43.3 L703.6,42.7 L705.5,41.8 L707.4,41.5 L709.3,40.7 L711.4,40.7 L713.3,40.0 L715.3,39.8 L717.3,39.5 L719.2,39.0 L721.1,38.4 L723.0,37.9 L725.0,37.5 L726.9,37.0 L728.9,36.5 L730.8,36.1 L732.8,36.0 L734.8,35.8 L736.8,35.7 L738.8,35.6 L740.8,35.5 L742.8,35.5 L744.8,35.4 L746.8,35.4 L748.8,35.4 L750.8,35.4 L752.8,35.4 L754.8,35.4 L756.8,35.4 L758.8,35.4 L760.8,35.4 L761.8,35.4" stroke="#0000e0" stroke-width="4.4"/>
<path d="M736.8,36.6 L738.8,36.3 L740.8,36.2 L742.8,36.0 L744.8,35.9 L746.8,35.8 L748.8,35.7 L750.8,35.6 L752.8,35.6 L754.8,35.6 L756.8,35.6 L758.8,35.5 L760.8,35.5 L761.8,35.5" stroke="#00008c" stroke-width="4.2"/>
</g>
<g fill="none">
<line x1="126" y1="3.3" x2="762.5" y2="3.3" stroke="#111" stroke-width="2"/>
<line x1="761.7" y1="2.5" x2="761.7" y2="620.5" stroke="#333" stroke-width="1.6"/>
<line x1="126" y1="619.9" x2="762.5" y2="619.9" stroke="#444" stroke-width="1.6"/>
<line x1="127" y1="2.3" x2="127" y2="621.5" stroke="#000" stroke-width="2.2"/>
</g>
<text x="47.3" y="51" font-size="38">10</text>
<text x="91.1" y="35.2" font-size="25">-</text><text x="99.4" y="33" font-size="25">2</text>
<text x="47.8" y="375.8" font-size="38">10</text>
<text x="91.8" y="360.4" font-size="24.5">-</text><text x="99.9" y="358.2" font-size="24.5">5</text>
<text x="94.2" y="662.9" font-size="38"><tspan dy="1.6">-</tspan><tspan dy="-1.6">0.5</tspan></text>
<text x="444.5" y="662.9" font-size="38" text-anchor="middle">0.0</text>
<text x="761.3" y="662.9" font-size="38" text-anchor="middle">0.5</text>
<text x="445.3" y="725" font-size="37.5" letter-spacing="0.75" text-anchor="middle">Voltage [V]</text>
<text transform="translate(29.9,283) rotate(-90)" font-size="37.5" letter-spacing="0.7" text-anchor="middle">Current [A]</text>
<line x1="804" y1="18.2" x2="878" y2="18.2" stroke="#e86a6e" stroke-width="3.0"/>
<text x="887.3" y="29.0" font-size="31.5" letter-spacing="0.35">GeSn120</text>
<line x1="804" y1="57.8" x2="878" y2="57.8" stroke="#ff0000" stroke-width="3.8"/>
<text x="887.3" y="68.7" font-size="31.5" letter-spacing="0.35">GeSn155</text>
<line x1="804" y1="97.5" x2="878" y2="97.5" stroke="#a00000" stroke-width="3.0"/>
<text x="887.3" y="108.3" font-size="31.5" letter-spacing="0.35">GeSn190</text>
<line x1="804" y1="137.1" x2="878" y2="137.1" stroke="#b6b4f8" stroke-width="3.3"/>
<text x="887.3" y="147.9" font-size="31.5" letter-spacing="0.35">Ge130</text>
<line x1="804" y1="176.8" x2="878" y2="176.8" stroke="#5c5ce8" stroke-width="3.0"/>
<text x="887.3" y="187.6" font-size="31.5" letter-spacing="0.35">GeSn140</text>
<line x1="804" y1="216.4" x2="878" y2="216.4" stroke="#0000e0" stroke-width="3.6"/>
<text x="887.3" y="227.2" font-size="31.5" letter-spacing="0.35">Ge160</text>
<line x1="804" y1="256.1" x2="878" y2="256.1" stroke="#00008c" stroke-width="3.3"/>
<text x="887.3" y="266.9" font-size="31.5" letter-spacing="0.35">Ge200</text>
</svg></body></html>
